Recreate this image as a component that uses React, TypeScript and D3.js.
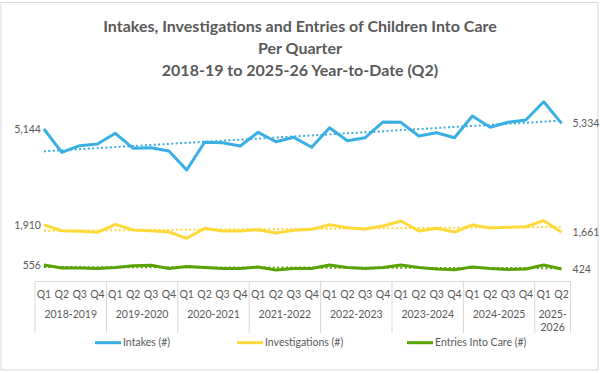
import React from 'react';
import * as d3 from 'd3';

const fiscalYears = ["2018-2019", "2019-2020", "2020-2021", "2021-2022", "2022-2023", "2023-2024", "2024-2025", "2025-2026"];
const quarterNames = ["Q1", "Q2", "Q3", "Q4"];
const quartersPerYear = [4, 4, 4, 4, 4, 4, 4, 2];

const intakes = [5144, 4358, 4581, 4638, 4999, 4493, 4513, 4402, 3761, 4696, 4682, 4571, 5033, 4716, 4864, 4527, 5188, 4750, 4851, 5381, 5370, 4908, 5020, 4851, 5583, 5202, 5370, 5448, 6065, 5334];
const investigations = [1910, 1713, 1693, 1659, 1929, 1737, 1713, 1669, 1457, 1794, 1703, 1703, 1747, 1636, 1727, 1760, 1916, 1814, 1771, 1872, 2040, 1703, 1794, 1669, 1910, 1804, 1828, 1848, 2051, 1661];
const entries = [556, 455, 455, 441, 475, 532, 550, 441, 509, 475, 441, 441, 489, 387, 441, 441, 556, 475, 441, 475, 556, 475, 421, 397, 489, 441, 408, 421, 556, 424];

const titleLines = [
  "Intakes, Investigations and Entries of Children Into Care",
  "Per Quarter",
  "2018-19 to 2025-26 Year-to-Date (Q2)",
];

const series = [
  { name: "Intakes (#)", values: intakes, color: "#3aafe3" },
  { name: "Investigations (#)", values: investigations, color: "#ffd93a" },
  { name: "Entries Into Care (#)", values: entries, color: "#58a300" },
];

// one entry per quarter, e.g. "2018-2019 Q1"
const periods = fiscalYears.flatMap((fy, i) =>
  quarterNames.slice(0, quartersPerYear[i]).map(q => `${fy} ${q}`)
);

const FONT = "Lato, 'Open Sans', sans-serif";
const TEXT = "#595959";
const GRID = "#d9d9d9";

function trend(values: number[]) {
  const n = values.length;
  const mx = d3.mean(values, (_, i) => i) as number;
  const my = d3.mean(values) as number;
  let sxy = 0, sxx = 0;
  values.forEach((v, i) => {
    sxy += (i - mx) * (v - my);
    sxx += (i - mx) * (i - mx);
  });
  const slope = sxy / sxx;
  return [0, n - 1].map(i => my + slope * (i - mx));
}

const App: React.FC = () => {
  const width = 600;
  const height = 373;

  const x = d3.scaleBand<string>().domain(periods).range([35, 570.5]).paddingInner(0);
  const y = d3.scaleLinear().domain([0, 7000]).range([281.5, 74]);
  const cx = (i: number) => (x(periods[i]) || 0) + x.bandwidth() / 2;

  const line = d3.line<number>().x((_, i) => cx(i)).y(d => y(d));

  // group boundaries along the axis
  const starts: number[] = [];
  let acc = 0;
  quartersPerYear.forEach(q => { starts.push(acc); acc += q; });
  const dividerX = [...starts.map(s => x(periods[s]) || 0), (x(periods[periods.length - 1]) || 0) + x.bandwidth()];
  const axisY = y(0);

  const legendX = [95, 237, 407];

  return (
    <svg width={width} height={height} style={{ position: 'absolute', left: 0, top: 0, background: '#fff' }}
      fontFamily={FONT}>
      <rect x={1} y={2.5} width={597} height={367.5} fill="#fff" stroke={GRID} strokeWidth={1} />

      {titleLines.map((t, i) => (
        <text key={t} x={300} y={32 + i * 22} textAnchor="middle" fontSize={16} fontWeight="bold" fill={TEXT}>{t}</text>
      ))}

      {/* category axis */}
      <line x1={dividerX[0]} x2={dividerX[dividerX.length - 1]} y1={axisY} y2={axisY} stroke={GRID} />
      {dividerX.map((dx, i) => (
        <line key={i} x1={dx} x2={dx} y1={axisY} y2={333} stroke={GRID} />
      ))}
      {periods.map((p, i) => (
        <text key={p} x={cx(i)} y={298} textAnchor="middle" fontSize={10.5} fill={TEXT}>{p.split(" ")[1]}</text>
      ))}
      {fiscalYears.map((fy, i) => {
        const x0 = dividerX[i];
        const x1 = dividerX[i + 1];
        const mid = (x0 + x1) / 2;
        const parts = quartersPerYear[i] < 4 ? [fy.split("-")[0] + "-", fy.split("-")[1]] : [fy];
        return parts.map((t, j) => (
          <text key={fy + j} x={mid} y={318 + j * 13} textAnchor="middle" fontSize={10.5} fill={TEXT}>{t}</text>
        ));
      })}

      {/* trend lines */}
      {series.map(s => {
        const [a, b] = trend(s.values);
        return (
          <line key={s.name + "t"} x1={cx(0)} x2={cx(s.values.length - 1)} y1={y(a)} y2={y(b)}
            stroke={s.color} strokeWidth={2} strokeDasharray="2 2.4" />
        );
      })}

      {/* series */}
      {series.map(s => (
        <path key={s.name} d={line(s.values) || ""} fill="none" stroke={s.color} strokeWidth={3}
          strokeLinejoin="round" />
      ))}

      {/* first / last value labels */}
      {series.map(s => {
        const last = s.values.length - 1;
        return (
          <g key={s.name + "l"} fontSize={10.5} fill={TEXT}>
            <text x={cx(0) - 3} y={y(s.values[0])} dy="0.35em" textAnchor="end">{d3.format(",")(s.values[0])}</text>
            <text x={cx(last) + 11} y={y(s.values[last])} dy="0.35em" textAnchor="start">{d3.format(",")(s.values[last])}</text>
          </g>
        );
      })}

      {/* legend */}
      {series.map((s, i) => (
        <g key={s.name + "g"} transform={`translate(${legendX[i]},342.7)`}>
          <line x1={0} x2={26} y1={0} y2={0} stroke={s.color} strokeWidth={3} />
          <text x={28} y={0} dy="0.35em" fontSize={10.5} fill={TEXT}>{s.name}</text>
        </g>
      ))}
    </svg>
  );
};

export default App;
